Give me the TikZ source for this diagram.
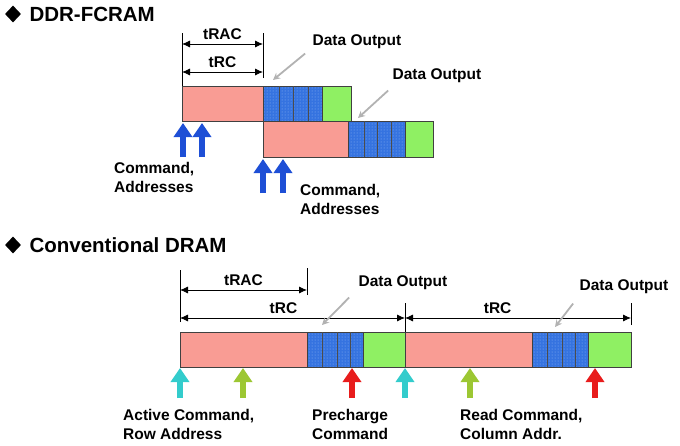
\documentclass[tikz,border=0pt]{standalone}
\usepackage{fontspec}
\setmainfont{Liberation Sans}
\usetikzlibrary{arrows.meta,positioning,patterns,calc,shapes.geometric}

\definecolor{rowpink}{HTML}{F99C94}
\definecolor{burstblue}{HTML}{3573E0}
\definecolor{dotblue}{HTML}{93B8F5}
\definecolor{datagreen}{HTML}{8FF063}
\definecolor{cmdblue}{HTML}{1E4FD6}
\definecolor{actcyan}{HTML}{33CCCC}
\definecolor{rdolive}{HTML}{9CC733}
\definecolor{prered}{HTML}{E81C1C}

\begin{document}
\begin{tikzpicture}[
  x=1pt,y=-1pt,
  node distance=0pt,
  every node/.style={font=\fontsize{15.5}{19}\selectfont\bfseries},
  cell/.style={draw=black!75,line width=0.8pt,minimum height=35pt,inner sep=0pt,outer sep=0pt},
  core/.style={cell,fill=rowpink},
  burst/.style={cell,preaction={fill=burstblue},pattern=dots,pattern color=dotblue},
  tail/.style={cell,fill=datagreen},
  seam/.style={black!70,line width=0.6pt},
  tick/.style={line width=0.8pt},
  dim/.style={line width=0.8pt,{Latex[length=8pt,width=7pt]}-{Latex[length=8pt,width=7pt]}},
  pointer/.style={gray!60,line width=1.8pt,-{Stealth[length=7pt,width=7pt]}},
  cmd/.style={line width=5.5pt,-{Triangle[length=14pt,width=18pt]}},
  bullet/.style={diamond,fill=black,inner sep=0pt,minimum width=16pt,minimum height=17pt},
  title/.style={anchor=west,font=\fontsize{20.5}{24}\selectfont\bfseries},
  note/.style={anchor=north west,align=left,inner sep=0pt}
]
  \useasboundingbox (0,0) rectangle (680,445);

  % DDR-FCRAM
  \node[bullet] (m1) at (13,14) {};
  \node[title] (t1) at (26,14) {DDR-FCRAM};

  \node[core,minimum width=81pt,anchor=north west] (a1) at (182,86) {};
  \node[burst,minimum width=59pt,right=of a1] (b1) {};
  \node[tail,minimum width=29pt,right=of b1] (g1) {};
  \node[core,minimum width=85pt,minimum height=36pt,anchor=north west] (a2) at (a1.south east) {};
  \node[burst,minimum width=57pt,minimum height=36pt,right=of a2] (b2) {};
  \node[tail,minimum width=28pt,minimum height=36pt,right=of b2] (g2) {};
  \foreach \blk in {b1,b2}
    \foreach \f in {0.28,0.52,0.76}
      \draw[seam] ($(\blk.north west)!\f!(\blk.north east)$) -- ($(\blk.south west)!\f!(\blk.south east)$);

  \draw[tick] (a1.north west) -- ++(0,-53);
  \draw[tick] ([yshift=8pt]a1.north east) -- ++(0,-45);
  \path (a1.north west) ++(0,-42) coordinate (rac0)
        (a1.north east) ++(0,-42) coordinate (rac1)
        (a1.north west) ++(0,-14) coordinate (rc0)
        (a1.north east) ++(0,-14) coordinate (rc1);
  \draw[dim] (rac0) -- node[above=1pt] (lrac1) {tRAC} (rac1);
  \draw[dim] (rc0) -- node[above=1pt] (lrc1) {tRC} (rc1);

  \node (do1) at (357,42) {Data Output};
  \node (do2) at (437,76) {Data Output};
  \draw[pointer] ([xshift=-4pt,yshift=-1pt]do1.south west) -- ([xshift=10pt,yshift=6pt]b1.north west);
  \draw[pointer] ([xshift=-1pt,yshift=-4pt]do2.south west) -- ([xshift=10pt,yshift=3pt]b2.north west);

  \draw[cmd,cmdblue] ([xshift=1pt,yshift=-36pt]a1.south west) -- ([xshift=1pt,yshift=-2pt]a1.south west);
  \draw[cmd,cmdblue] ([xshift=20pt,yshift=-36pt]a1.south west) -- ([xshift=20pt,yshift=-2pt]a1.south west);
  \draw[cmd,cmdblue] ([xshift=0pt,yshift=-36pt]a2.south west) -- ([xshift=0pt,yshift=-2pt]a2.south west);
  \draw[cmd,cmdblue] ([xshift=20pt,yshift=-36pt]a2.south west) -- ([xshift=20pt,yshift=-2pt]a2.south west);

  \node[note] (n1) at (114,162) {Command,\\Addresses};
  \node[note] (n2) at (300,184) {Command,\\Addresses};

  % Conventional DRAM
  \node[bullet] (m2) at (13,245) {};
  \node[title] (t2) at (26,245) {Conventional DRAM};

  \node[core,minimum width=127pt,anchor=north west] (c1) at (180,332) {};
  \node[burst,minimum width=56pt,right=of c1] (d1) {};
  \node[tail,minimum width=42pt,right=of d1] (e1) {};
  \node[core,minimum width=127pt,right=of e1] (c2) {};
  \node[burst,minimum width=56pt,right=of c2] (d2) {};
  \node[tail,minimum width=43pt,right=of d2] (e2) {};
  \foreach \blk in {d1,d2}
    \foreach \f in {0.27,0.54,0.77}
      \draw[seam] ($(\blk.north west)!\f!(\blk.north east)$) -- ($(\blk.south west)!\f!(\blk.south east)$);

  \draw[tick] ([yshift=10pt]c1.north west) -- ++(0,-52);
  \draw[tick] ([yshift=37pt]c1.north east) -- ++(0,-27);
  \draw[tick] (c2.north west) -- ++(0,-29);
  \draw[tick] ([yshift=7pt]e2.north east) -- ++(0,-22);
  \path (c1.north west) ++(0,-42) coordinate (rac2)
        (c1.north east) ++(0,-42) coordinate (rac3)
        (c1.north west) ++(0,-14) coordinate (rc2)
        (c2.north west) ++(0,-14) coordinate (rc3)
        (e2.north east) ++(0,-14) coordinate (rc4);
  \draw[dim] (rac2) -- node[above=1pt] (lrac2) {tRAC} (rac3);
  \draw[dim] (rc2) -- node[above=1pt,pos=0.46] (lrc2) {tRC} (rc3);
  \draw[dim] (rc3) -- node[above=1pt,pos=0.41] (lrc3) {tRC} (rc4);

  \node (do3) at (403,283) {Data Output};
  \node (do4) at (624,287) {Data Output};
  \draw[pointer] ([xshift=-6pt,yshift=-4pt]do3.south west) -- ([xshift=15pt,yshift=7pt]d1.north west);
  \draw[pointer] ([xshift=-3pt,yshift=-6pt]do4.south west) -- ([xshift=23pt,yshift=5pt]d2.north west);

  \draw[cmd,actcyan] ([yshift=-31pt]c1.south west) -- ([yshift=-1pt]c1.south west);
  \draw[cmd,rdolive] ([xshift=63pt,yshift=-31pt]c1.south west) -- ([xshift=63pt,yshift=-1pt]c1.south west);
  \draw[cmd,prered] ([xshift=-11pt,yshift=-31pt]e1.south west) -- ([xshift=-11pt,yshift=-1pt]e1.south west);
  \draw[cmd,actcyan] ([yshift=-31pt]c2.south west) -- ([yshift=-1pt]c2.south west);
  \draw[cmd,rdolive] ([xshift=65pt,yshift=-31pt]c2.south west) -- ([xshift=65pt,yshift=-1pt]c2.south west);
  \draw[cmd,prered] ([xshift=7pt,yshift=-31pt]e2.south west) -- ([xshift=7pt,yshift=-1pt]e2.south west);

  \node[note] (n3) at (123,409) {Active Command,\\Row Address};
  \node[note] (n4) at (312,409) {Precharge\\Command};
  \node[note] (n5) at (460,409) {Read Command,\\Column Addr.};
\end{tikzpicture}
\end{document}
